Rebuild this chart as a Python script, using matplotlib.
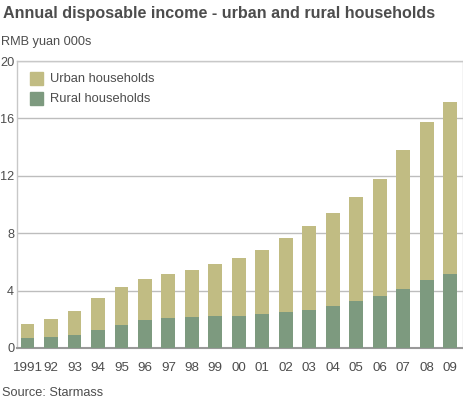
import matplotlib
matplotlib.use("Agg")
import matplotlib.pyplot as plt
from matplotlib.patches import Rectangle

years = ["1991", "92", "93", "94", "95", "96", "97", "98", "99", "00",
         "01", "02", "03", "04", "05", "06", "07", "08", "09"]
urban = [1.70, 2.03, 2.58, 3.50, 4.28, 4.84, 5.16, 5.43, 5.85, 6.28,
         6.86, 7.70, 8.47, 9.42, 10.49, 11.76, 13.79, 15.78, 17.17]
rural = [0.71, 0.78, 0.92, 1.22, 1.58, 1.93, 2.09, 2.16, 2.21, 2.25,
         2.37, 2.48, 2.62, 2.94, 3.25, 3.59, 4.14, 4.76, 5.15]
yticks = [0, 4, 8, 12, 16, 20]

URBAN_C = "#c1bc83"
RURAL_C = "#7d9a7f"
TEXT_C = "#4d4d4d"
plt.rcParams["font.family"] = ["Liberation Sans", "DejaVu Sans"]

W, H = 464, 405
fig = plt.figure(figsize=(W / 100, H / 100), dpi=100)
ax = fig.add_axes([17 / W, 1 - 348 / H, (463 - 17) / W, (348 - 61) / H])

x = list(range(len(years)))
ax.bar(x, urban, width=0.59, color=URBAN_C, zorder=2)
ax.bar(x, rural, width=0.59, color=RURAL_C, zorder=3)

ax.set_xlim(-0.45, len(years) - 0.45)
ax.set_ylim(0, 20)
ax.set_yticks(yticks)
ax.set_yticklabels([str(v) for v in yticks])
ax.set_xticks(x)
ax.set_xticklabels(years)
ax.tick_params(axis="both", length=0, labelsize=9.6, colors=TEXT_C)
ax.tick_params(axis="y", pad=2, labelsize=9.2)
ax.tick_params(axis="x", pad=10)
ax.yaxis.grid(True, color="#bdbdbd", linewidth=1, zorder=0)
ax.set_axisbelow(True)
for s in ["top", "right", "left"]:
    ax.spines[s].set_color("#c8c8c8")
    ax.spines[s].set_linewidth(1)
ax.spines["bottom"].set_color("#999999")
ax.spines["bottom"].set_linewidth(1.5)

# legend
for i, (lab, c) in enumerate([("Urban households", URBAN_C), ("Rural households", RURAL_C)]):
    y0 = 72 + i * 20
    fig.patches.append(Rectangle((30 / W, 1 - (y0 + 13) / H), 13 / W, 13 / H,
                                 transform=fig.transFigure, color=c))
    fig.text(50 / W, 1 - (y0 + 7) / H, lab, fontsize=9.3, color=TEXT_C, va="center")

fig.text(3 / W, 1 - 13.5 / H, "Annual disposable income - urban and rural households",
         fontsize=11.65, fontweight="bold", color=TEXT_C, va="center")
fig.text(1 / W, 1 - 41.5 / H, "RMB yuan 000s", fontsize=9.2, color=TEXT_C, va="center")
fig.text(2 / W, 1 - 392.5 / H, "Source: Starmass", fontsize=9.2, color=TEXT_C, va="center")

fig.savefig("out.png", dpi=100)
